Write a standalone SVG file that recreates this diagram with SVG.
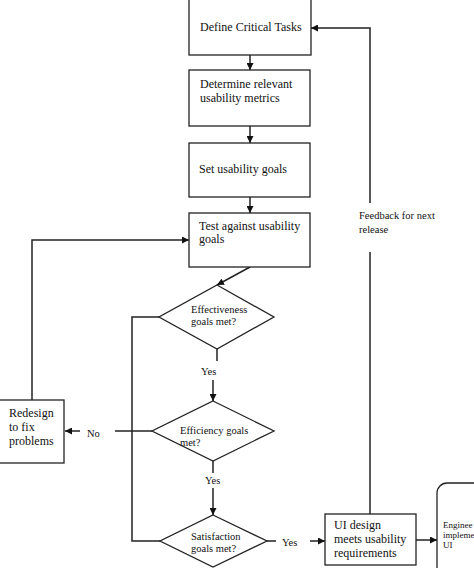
<svg xmlns="http://www.w3.org/2000/svg" width="474" height="568" viewBox="0 0 474 568">
<defs>
<marker id="ah" viewBox="0 0 10 10" refX="10" refY="5" markerWidth="7" markerHeight="7" markerUnits="userSpaceOnUse" orient="auto">
<path d="M0,0 L10,5 L0,10 z" fill="#111"/>
</marker>
<style>
.box{fill:#fff;stroke:#222;stroke-width:1.3}
.t{font-family:'Liberation Serif','DejaVu Serif',serif;font-size:12px;fill:#111}
.s{font-family:'Liberation Serif','DejaVu Serif',serif;font-size:10.5px;fill:#111}
.e{font-family:'Liberation Serif','DejaVu Serif',serif;font-size:9px;fill:#111}
.c{fill:none;stroke:#222;stroke-width:1.5}
.a{marker-end:url(#ah)}
</style>
</defs>
<rect width="474" height="568" fill="#fff"/>
<g id="connectors">
<path class="c a" d="M250,55 V70"/>
<path class="c a" d="M250,126 V143"/>
<path class="c a" d="M250,197 V213"/>
<path class="c a" d="M250,267 L217,285"/>
<path class="c" d="M217,349 V361"/>
<path class="c a" d="M213,380 V401"/>
<path class="c" d="M213,461 V473"/>
<path class="c a" d="M213,488 V515"/>
<path class="c" d="M159,317 H132 V541 H160"/>
<path class="c" d="M152,431 H115"/>
<path class="c a" d="M80,431 H65"/>
<path class="c a" d="M32,400 V240 H189"/>
<path class="c" d="M267,541 H276"/>
<path class="c a" d="M310,541 H325"/>
<path class="c a" d="M416,540 H437"/>
<path class="c" d="M370,514 V252"/>
<path class="c a" d="M370,203 V28 H311"/>
</g>
<g id="n1"><rect class="box" x="189" y="-2" width="122" height="57"/><text class="t" x="200" y="31">Define Critical Tasks</text></g>
<g id="n2"><rect class="box" x="189" y="70" width="121" height="56"/><text class="t" x="200" y="88">Determine relevant</text><text class="t" x="200" y="102">usability metrics</text></g>
<g id="n3"><rect class="box" x="189" y="143" width="121" height="54"/><text class="t" x="199" y="173">Set usability goals</text></g>
<g id="n4"><rect class="box" x="189" y="213" width="121" height="54"/><text class="t" x="199" y="230">Test against usability</text><text class="t" x="199" y="243">goals</text></g>
<g id="d1"><path class="box" d="M217,285 L274,317 L217,349 L159,317 z"/><text class="s" x="191" y="313">Effectiveness</text><text class="s" x="191" y="325">goals met?</text></g>
<g id="d2"><path class="box" d="M213,401 L274,431 L213,461 L152,431 z"/><text class="s" x="180" y="434">Efficiency goals</text><text class="s" x="180" y="446">met?</text></g>
<g id="d3"><path class="box" d="M213,515 L267,541 L213,567 L160,541 z"/><text class="s" x="191" y="540">Satisfaction</text><text class="s" x="191" y="552">goals met?</text></g>
<g id="redesign"><rect class="box" x="-2" y="400" width="66" height="63"/><text class="t" x="9" y="417">Redesign</text><text class="t" x="9" y="431">to fix</text><text class="t" x="9" y="445">problems</text></g>
<g id="ui"><rect class="box" x="325" y="514" width="91" height="51"/><text class="t" x="334" y="529">UI design</text><text class="t" x="334" y="543">meets usability</text><text class="t" x="334" y="557">requirements</text></g>
<g id="eng"><rect class="box" x="437" y="483" width="60" height="100" rx="10"/><text class="e" x="443" y="528">Enginee</text><text class="e" x="443" y="538">impleme</text><text class="e" x="443" y="548">UI</text></g>
<g id="labels">
<text class="s" x="201" y="375">Yes</text>
<text class="s" x="205" y="484">Yes</text>
<text class="s" x="87" y="437">No</text>
<text class="s" x="282" y="546">Yes</text>
<text class="s" x="359" y="219">Feedback for next</text>
<text class="s" x="359" y="233">release</text>
</g>
</svg>
